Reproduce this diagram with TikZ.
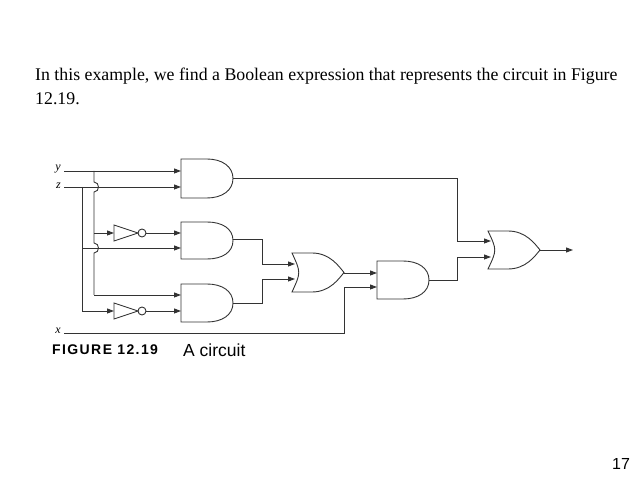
\documentclass[tikz,border=0pt]{standalone}
\usepackage{fontspec}
\setmainfont{Liberation Serif}
\setsansfont{Liberation Sans}
\usetikzlibrary{arrows.meta}
\newcommand{\andg}[3]{% x0, top, bottom
  \draw[gate] ({#1+26},#2) -- (#1,#2) -- (#1,#3) -- ({#1+26},#3)
   .. controls ({#1+26+15},#3) and ({#1+52},{(#2+#3)/2+12}) .. ({#1+52},{(#2+#3)/2})
   .. controls ({#1+52},{(#2+#3)/2-12}) and ({#1+26+15},#2) .. cycle;}
\newcommand{\org}[3]{% x0, top, bottom
  \draw[gate] (#1,#2) .. controls ({#1+9},{(#2+#3)/2}) .. (#1,#3)
   -- ({#1+20},#3) .. controls ({#1+38},#3) and ({#1+47},{(#2+#3)/2+6}) .. ({#1+52},{(#2+#3)/2})
   .. controls ({#1+47},{(#2+#3)/2-6}) and ({#1+38},#2) .. ({#1+20},#2) -- cycle;}
\newcommand{\notg}[2]{% x0, y
  \draw[gate] (#1,{#2-8}) -- (#1,{#2+8}) -- ({#1+24},#2) -- cycle;
  \draw[gate] ({#1+28},#2) circle (4);}
\begin{document}
\begin{tikzpicture}[x=1pt,y=-1pt,
  wire/.style={line width=0.9pt,draw=black!80},
  gate/.style={line width=0.9pt,draw=black!80},
  arr/.style={wire,-{Triangle[length=7pt,width=5pt]}}]
\useasboundingbox (0,0) rectangle (638,478);
\node[anchor=west,inner sep=0pt,font=\fontsize{17.8}{20}\selectfont] (p1) at (35,76) {In this example, we find a Boolean expression that represents the circuit in Figure};
\node[anchor=west,inner sep=0pt,font=\fontsize{17.8}{20}\selectfont] (p2) at (35,99) {12.19.};
\node[anchor=east,inner sep=1pt,font=\itshape\fontsize{12}{14}\selectfont] (ly) at (62,169) {y};
\node[anchor=east,inner sep=1pt,font=\itshape\fontsize{12}{14}\selectfont] (lz) at (62,186) {z};
\node[anchor=east,inner sep=1pt,font=\itshape\fontsize{12}{14}\selectfont] (lx) at (62,331) {x};
\node[anchor=west,inner sep=0pt,font=\sffamily\bfseries\fontsize{14}{16}\selectfont\addfontfeature{LetterSpace=10}] (cap) at (52,350) {FIGURE 12.19};
\node[anchor=west,inner sep=0pt,font=\sffamily\fontsize{17.5}{19}\selectfont] (cap2) at (183,350) {A circuit};
\node[font=\sffamily\fontsize{16}{18}\selectfont] (pg) at (621,464) {17};
% gates
\andg{181}{159}{198}
\andg{181}{222}{259}
\andg{181}{284}{322}
\org{292}{253}{292}
\andg{377}{261}{299}
\org{488}{231}{269}
\notg{114}{233}
\notg{114}{311}
% inputs
\draw[arr] (64,171) -- (181,171);
\draw[arr] (64,187) -- (181,187);
\draw[wire] (94,171) -- (94,182) .. controls (100,182) and (100,192) .. (94,192) -- (94,243)
  .. controls (100,243) and (100,253) .. (94,253) -- (94,295);
\draw[arr] (94,295) -- (181,295);
\draw[arr] (94,233) -- (114,233);
\draw[arr] (146,233) -- (181,233);
\draw[wire] (82,187) -- (82,311);
\draw[arr] (82,248) -- (181,248);
\draw[arr] (82,311) -- (114,311);
\draw[arr] (146,311) -- (181,311);
\draw[arr] (64,333) -- (344,333) -- (344,287) -- (377,287);
% internal
\draw[arr] (233,239) -- (262,239) -- (262,264) -- (295,264);
\draw[arr] (233,303) -- (262,303) -- (262,279) -- (295,279);
\draw[arr] (344,273) -- (377,273);
\draw[arr] (233,178) -- (457,178) -- (457,241) -- (491,241);
\draw[arr] (429,280) -- (457,280) -- (457,257) -- (491,257);
\draw[arr] (540,250) -- (573,250);
\end{tikzpicture}
\end{document}
